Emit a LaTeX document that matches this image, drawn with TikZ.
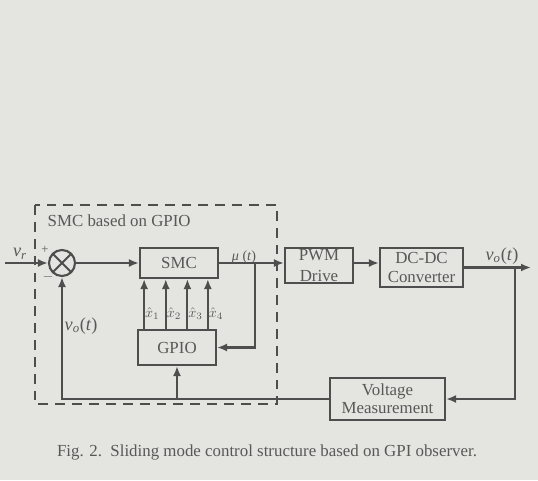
\documentclass[tikz,border=0pt]{standalone}
\usepackage{fontspec}
\setmainfont{Liberation Serif}
\usetikzlibrary{arrows.meta,calc}
\definecolor{bgc}{RGB}{228,228,225}
\definecolor{inkc}{RGB}{78,78,78}
\definecolor{txtc}{RGB}{88,88,88}

\begin{document}
\begin{tikzpicture}[
  x=0.025cm, y=-0.025cm,
  font=\fontsize{12}{14}\selectfont,
  blk/.style={draw=inkc, line width=1.5pt, fill=bgc, text=txtc, align=center, inner sep=0pt},
  sumj/.style={circle, draw=inkc, line width=1.5pt, minimum size=0.65cm, inner sep=0pt,
               path picture={\draw[inkc, line width=1.5pt]
                 (path picture bounding box.north west)--(path picture bounding box.south east)
                 (path picture bounding box.north east)--(path picture bounding box.south west);}},
  wire/.style={draw=inkc, line width=1.5pt},
  sig/.style={wire, -{Latex[length=2.5mm,width=2mm]}},
  grp/.style={draw=inkc, line width=1.2pt, dash pattern=on 7pt off 5pt},
  lbl/.style={text=txtc, inner sep=1pt},
]

% background / page
\fill[bgc] (0,0) rectangle (538,480);

% ---------------- controller group ----------------
\draw[grp] (35,205) rectangle (277,404);
\node[lbl, anchor=west] (ttl) at (46,221) {SMC based on GPIO};

\node[sumj] (sum) at (62,263) {};
\node[blk, minimum width=1.95cm, minimum height=0.75cm] (smc) at (179,263) {SMC};
\node[blk, minimum width=1.95cm, minimum height=0.875cm] (gpio) at (177,347.5) {GPIO};

% ---------------- plant side ----------------
\node[blk, minimum width=1.7cm, minimum height=0.875cm,
      font=\fontsize{12}{15}\selectfont] (pwm) at (319,265.5) {PWM\\Drive};
\node[blk, minimum width=2.075cm, minimum height=0.975cm] (dcdc) at (421.5,267.5) {DC-DC\\Converter};
\node[blk, minimum width=2.875cm, minimum height=1.05cm,
      font=\fontsize{12}{13}\selectfont] (vm) at (387.5,399) {Voltage\\Measurement};

\coordinate (in) at (5,263);
\coordinate (out) at (531,267.5);
\coordinate (br1) at (255,263);
\coordinate (br2) at (515,267.5);
\coordinate (tap) at (177,399);

% forward path
\draw[sig] (in) -- (sum.west);
\draw[sig] (sum.east) -- (smc.west);
\draw[sig] (smc.east) -- (smc.east -| pwm.west);
\draw[sig] (pwm.east |- smc.east) -- (dcdc.west |- smc.east);
\draw[sig] (dcdc.east) -- (out);

% observer input and estimates
\draw[sig] (br1) |- (gpio.east);
\foreach \i/\f in {1/0.09,2/0.36,3/0.63,4/0.885}{
  \coordinate (e\i) at ($(gpio.north west)!\f!(gpio.north east)$);
  \draw[sig] (e\i) -- (e\i |- smc.south);
  \node[lbl, anchor=west, font=\fontsize{10}{10}\selectfont, inner sep=0.5pt]
    at ($(e\i)!0.3!(e\i |- smc.south)$) {$\hat{x}_{\i}$};
}

% feedback
\draw[sig] (br2) |- (vm.east);
\draw[sig] (vm.west) -| (sum.south);
\draw[sig] (tap) -- (gpio.south);

% signal labels
\node[lbl, font=\fontsize{13}{14}\selectfont] (vr) at (20,254) {\textit{v}\textsubscript{\textit{r}}};
\node[lbl, font=\fontsize{9}{10}\selectfont] (plus) at (45,250) {+};
\node[lbl, font=\fontsize{10}{10}\selectfont] (minus) at (48,277) {$-$};
\node[lbl, anchor=west, font=\fontsize{13}{14}\selectfont] (vofb) at (63,326) {\textit{v}\textsubscript{\textit{o}}(\textit{t})};
\node[lbl, font=\fontsize{10}{12}\selectfont] (mu) at (244,257) {\textit{μ} (\textit{t})};
\node[lbl, font=\fontsize{13}{14}\selectfont] (vout) at (502,256) {\textit{v}\textsubscript{\textit{o}}(\textit{t})};

% caption
\node[lbl] (cap) at (267,452) {Fig. 2.\ \ Sliding mode control structure based on GPI observer.};

\end{tikzpicture}
\end{document}
